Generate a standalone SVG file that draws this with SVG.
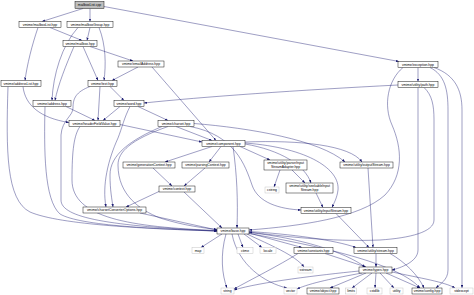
<svg xmlns="http://www.w3.org/2000/svg" width="474" height="295" viewBox="0 0 474 295">
<style>
.e{fill:none;stroke:#191970;stroke-width:0.42;marker-end:url(#a)}
.n rect{fill:#fff;stroke:#000;stroke-width:0.45}
.s rect{fill:#fff;stroke:#bfbfbf;stroke-width:0.45}
.r rect{fill:#bfbfbf;stroke:#000;stroke-width:0.45}
text{font-family:"Liberation Sans",Arial,sans-serif;font-size:3.4px;text-anchor:middle;fill:#000}
</style>
<defs>
<marker id="a" markerUnits="userSpaceOnUse" markerWidth="3" markerHeight="2.4" refX="3" refY="1.2" orient="auto"><path d="M0,0L3,1.2L0,2.4z" fill="#191970"/></marker>
</defs>
<rect width="474" height="295" fill="#fff"/>
<g id="edges">
<path class="e" d="M83,8.5L42,21.5"/>
<path class="e" d="M90,8.5L90,21.5"/>
<path class="e" d="M104,6.5L399,61.5"/>
<path class="e" d="M50,27.5L82,40.5"/>
<path class="e" d="M38,27.5C32,45 27,65 25,80.5"/>
<path class="e" d="M90,27.5L87,40.5"/>
<path class="e" d="M99,27.5C106,45 106,65 104,80.5"/>
<path class="e" d="M78,27.5C62,45 53,75 52,100.5"/>
<path class="e" d="M90,46.5L133,61"/>
<path class="e" d="M83,46.5L98,80.5"/>
<path class="e" d="M74,46.5C66,65 58,85 55,100.5"/>
<path class="e" d="M23,86.5C25,105 40,118 69,122.5"/>
<path class="e" d="M8,86.5C6,150 6,200 30,212C60,225 150,229 217,231"/>
<path class="e" d="M66,106.5L95,120.5"/>
<path class="e" d="M45,106.5C44,150 44,200 60,214C80,226 160,229 217,231"/>
<path class="e" d="M100,86.5L98,120.5"/>
<path class="e" d="M110,86.5L124,100.5"/>
<path class="e" d="M90,86.5C76,92 73,98 73,108C73,116 62,120 61,135L61,200C61,218 110,226 217,231"/>
<path class="e" d="M120,124.5L202,142"/>
<path class="e" d="M80,126.5C74,135 72,150 72,180C72,218 130,227 217,230.5"/>
<path class="e" d="M138,67L112,80.5"/>
<path class="e" d="M152,67L216,140.5"/>
<path class="e" d="M120,106.5L103,120.5"/>
<path class="e" d="M138,106.5L168,120.5"/>
<path class="e" d="M130,106.5C124,118 122,128 118,138C108,160 102,185 106,207"/>
<path class="e" d="M162,126.5C130,140 110,155 110,175C110,190 112,200 113,207"/>
<path class="e" d="M176,126.5L212,140.5"/>
<path class="e" d="M194,123.5C250,128 320,140 345,162"/>
<path class="e" d="M190,126.5C235,135 245,165 252,185C258,203 280,209 301,210"/>
<path class="e" d="M168,126.5C130,140 118,152 118,165C118,195 140,210 160,218C185,226 205,228 217,229.5"/>
<path class="e" d="M212,146.5L165,162"/>
<path class="e" d="M221,146.5L209,162"/>
<path class="e" d="M240,146.5L270,160"/>
<path class="e" d="M245,144C280,150 305,165 311,183"/>
<path class="e" d="M245,143C310,148 340,170 338,190C337,198 334,203 332,207.5"/>
<path class="e" d="M245,142C300,140 350,145 362,162"/>
<path class="e" d="M233,146.5C237,175 238,200 237,228"/>
<path class="e" d="M153,168L172,186"/>
<path class="e" d="M205,168L184,186"/>
<path class="e" d="M160,191L126,207"/>
<path class="e" d="M184,192L222,228"/>
<path class="e" d="M140,213L217,230"/>
<path class="e" d="M292,170L305,183"/>
<path class="e" d="M280,170L274,187"/>
<path class="e" d="M316,193L323,207.5"/>
<path class="e" d="M336,213.5L369,247.5"/>
<path class="e" d="M368,168L373,247.5"/>
<path class="e" d="M418,67.5L418,81.5"/>
<path class="e" d="M403,67.5C388,80 383,105 392,125C402,148 404,175 385,195C360,218 300,226 249,230"/>
<path class="e" d="M430,67.5C445,75 448,90 448,110L448,270C448,280 440,284 436,288"/>
<path class="e" d="M434,67.5C455,75 462,90 462,110L462,288"/>
<path class="e" d="M398,85C300,90 200,97 144,103"/>
<path class="e" d="M418,87.5L418,250C418,262 400,268 392,270"/>
<path class="e" d="M424,87.5C432,95 434,105 434,120L434,220C434,232 410,238 380,240C330,242 280,236 249,232"/>
<path class="e" d="M222,234L201,247.5"/>
<path class="e" d="M238,234L243,247.5"/>
<path class="e" d="M244,234L262,247.5"/>
<path class="e" d="M249,233L302,247.5"/>
<path class="e" d="M247,234C270,245 295,255 304,267"/>
<path class="e" d="M226,234C220,255 222,275 227,288"/>
<path class="e" d="M232,234C238,265 265,283 287,288"/>
<path class="e" d="M249,231.5C290,234 335,240 356,247.5"/>
<path class="e" d="M249,232.5C300,238 345,252 365,267"/>
<path class="e" d="M249,233.5C330,248 400,265 420,288"/>
<path class="e" d="M325,253.5L366,267"/>
<path class="e" d="M298,253.5C280,265 250,280 234,289"/>
<path class="e" d="M376,253.5L376,267"/>
<path class="e" d="M390,253.5C405,262 418,275 424,288"/>
<path class="e" d="M359,271C320,275 260,282 234,290"/>
<path class="e" d="M362,273C335,278 310,283 297,289"/>
<path class="e" d="M366,273L330,288"/>
<path class="e" d="M372,273L352,288"/>
<path class="e" d="M376,273L375,288"/>
<path class="e" d="M380,273L394,288"/>
<path class="e" d="M386,273L420,288"/>
<path class="e" d="M392,272C420,278 445,282 455,288"/>
</g>
<g id="n0" class="r"><rect x="75" y="1.5" width="29" height="7"/><text x="89.5" y="6.2">mailboxList.cpp</text></g>
<g id="n1" class="n"><rect x="19" y="21.5" width="42" height="6"/><text x="40" y="25.8">vmime/mailboxList.hpp</text></g>
<g id="n2" class="n"><rect x="67" y="21.5" width="46" height="6"/><text x="90" y="25.8">vmime/mailboxGroup.hpp</text></g>
<g id="n3" class="n"><rect x="63" y="40.5" width="34" height="6"/><text x="80" y="44.8">vmime/mailbox.hpp</text></g>
<g id="n4" class="n"><rect x="118" y="61" width="46" height="6"/><text x="141" y="65.3">vmime/emailAddress.hpp</text></g>
<g id="n5" class="n"><rect x="1" y="80.5" width="40" height="6"/><text x="21" y="84.8">vmime/addressList.hpp</text></g>
<g id="n6" class="n"><rect x="88" y="80.5" width="29" height="6"/><text x="102.5" y="84.8">vmime/text.hpp</text></g>
<g id="n7" class="n"><rect x="398" y="61.5" width="40" height="6"/><text x="418" y="65.8">vmime/exception.hpp</text></g>
<g id="n8" class="n"><rect x="398" y="81.5" width="40" height="6"/><text x="418" y="85.8">vmime/utility/path.hpp</text></g>
<g id="n9" class="n"><rect x="33" y="100.5" width="38" height="6"/><text x="52" y="104.8">vmime/address.hpp</text></g>
<g id="n10" class="n"><rect x="114" y="100.5" width="30" height="6"/><text x="129" y="104.8">vmime/word.hpp</text></g>
<g id="n11" class="n"><rect x="69" y="120.5" width="51" height="6"/><text x="94.5" y="124.8">vmime/headerFieldValue.hpp</text></g>
<g id="n12" class="n"><rect x="158" y="120.5" width="36" height="6"/><text x="176" y="124.8">vmime/charset.hpp</text></g>
<g id="n13" class="n"><rect x="202" y="140.5" width="43" height="6"/><text x="223.5" y="144.8">vmime/component.hpp</text></g>
<g id="n14" class="n"><rect x="123" y="162" width="52" height="6"/><text x="149" y="166.3">vmime/generationContext.hpp</text></g>
<g id="n15" class="n"><rect x="182" y="162" width="47" height="6"/><text x="205.5" y="166.3">vmime/parsingContext.hpp</text></g>
<g id="n16" class="n"><rect x="264" y="160" width="43" height="10"/><text x="285.5" y="164.2">vmime/utility/parserInput</text><text x="285.5" y="168">StreamAdapter.hpp</text></g>
<g id="n17" class="n"><rect x="340" y="162" width="53" height="6"/><text x="366.5" y="166.3">vmime/utility/outputStream.hpp</text></g>
<g id="n18" class="n"><rect x="159" y="186" width="36" height="6"/><text x="177" y="190.3">vmime/context.hpp</text></g>
<g id="n19" class="s"><rect x="265" y="187" width="14" height="6"/><text x="272" y="191.3">cstring</text></g>
<g id="n20" class="n"><rect x="286" y="183" width="47" height="10"/><text x="309.5" y="187.2">vmime/utility/seekableInput</text><text x="309.5" y="191">Stream.hpp</text></g>
<g id="n21" class="n"><rect x="83" y="207" width="63" height="6"/><text x="114.5" y="211.3">vmime/charsetConverterOptions.hpp</text></g>
<g id="n22" class="n"><rect x="301" y="207.5" width="50" height="6"/><text x="326" y="211.8">vmime/utility/inputStream.hpp</text></g>
<g id="n23" class="n"><rect x="217" y="228" width="32" height="6"/><text x="233" y="232.3">vmime/base.hpp</text></g>
<g id="n24" class="s"><rect x="192" y="247.5" width="12" height="6"/><text x="198" y="251.8">map</text></g>
<g id="n25" class="s"><rect x="237" y="247.5" width="16" height="6"/><text x="245" y="251.8">ctime</text></g>
<g id="n26" class="s"><rect x="260" y="247.5" width="16" height="6"/><text x="268" y="251.8">locale</text></g>
<g id="n27" class="n"><rect x="294" y="247.5" width="39" height="6"/><text x="313.5" y="251.8">vmime/constants.hpp</text></g>
<g id="n28" class="n"><rect x="354" y="247.5" width="43" height="6"/><text x="375.5" y="251.8">vmime/utility/stream.hpp</text></g>
<g id="n29" class="s"><rect x="298" y="267" width="15" height="6"/><text x="305.5" y="271.3">sstream</text></g>
<g id="n30" class="n"><rect x="359" y="267" width="33" height="6"/><text x="375.5" y="271.3">vmime/types.hpp</text></g>
<g id="n31" class="s"><rect x="221" y="288" width="13" height="6"/><text x="227.5" y="292.3">string</text></g>
<g id="n32" class="s"><rect x="284" y="288" width="13" height="6"/><text x="290.5" y="292.3">vector</text></g>
<g id="n33" class="n"><rect x="307" y="288" width="32" height="6"/><text x="323" y="292.3">vmime/object.hpp</text></g>
<g id="n34" class="s"><rect x="345.5" y="288" width="11" height="6"/><text x="351" y="292.3">limits</text></g>
<g id="n35" class="s"><rect x="367" y="288" width="15" height="6"/><text x="374.5" y="292.3">cstdlib</text></g>
<g id="n36" class="s"><rect x="390" y="288" width="13" height="6"/><text x="396.5" y="292.3">utility</text></g>
<g id="n37" class="n"><rect x="412" y="288" width="30" height="6"/><text x="427" y="292.3">vmime/config.hpp</text></g>
<g id="n38" class="s"><rect x="450" y="288" width="23" height="6"/><text x="461.5" y="292.3">stdexcept</text></g>
</svg>
